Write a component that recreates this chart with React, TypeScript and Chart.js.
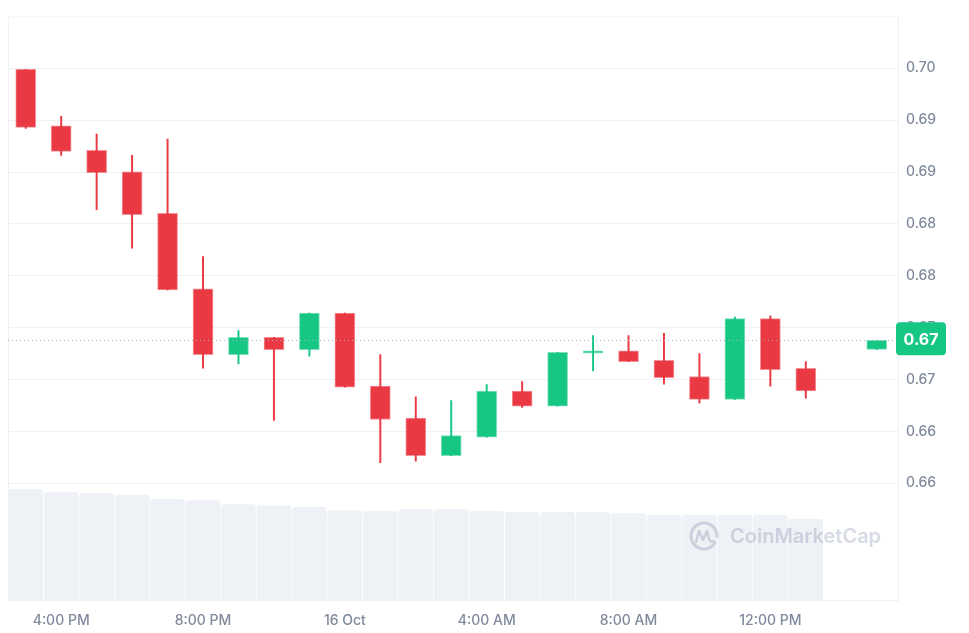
import React, { useEffect, useRef } from "react";
import { Chart, registerables } from "chart.js";

Chart.register(...registerables);

// Hour offsets from 15 Oct, 3:00 PM (one candle per hour)
const hourIdx = [0, 1, 2, 3, 4, 5, 6, 7, 8, 9, 10, 11, 12, 13, 14, 15, 16, 17, 18, 19, 20, 21, 22, 24];
const opens = [0.6999, 0.69445, 0.69209, 0.69003, 0.68603, 0.67875, 0.6724, 0.67407, 0.67288, 0.67641, 0.66936, 0.66628, 0.66266, 0.66445, 0.66888, 0.66743, 0.67253, 0.67276, 0.67186, 0.67029, 0.66808, 0.67587, 0.67109, 0.67291];
const highs = [0.6999, 0.69536, 0.69365, 0.69161, 0.69317, 0.68186, 0.67471, 0.67407, 0.67641, 0.67641, 0.6724, 0.66834, 0.66798, 0.66952, 0.66981, 0.67263, 0.67423, 0.67423, 0.67445, 0.6725, 0.67603, 0.67613, 0.67173, 0.67378];
const lows = [0.6942, 0.69161, 0.68638, 0.68266, 0.67863, 0.67109, 0.67151, 0.66606, 0.67224, 0.66926, 0.66199, 0.66214, 0.66266, 0.66445, 0.66731, 0.66743, 0.67084, 0.67173, 0.66955, 0.66772, 0.66808, 0.66936, 0.6682, 0.67291];
const closes = [0.6943, 0.69199, 0.68993, 0.68589, 0.67863, 0.6724, 0.67407, 0.67288, 0.67641, 0.66926, 0.66615, 0.66266, 0.66459, 0.66888, 0.66743, 0.67263, 0.67276, 0.67173, 0.67019, 0.66808, 0.67587, 0.67096, 0.66891, 0.67378];

// Volume bars (relative units), hours 0..22
const volumeHours = [0, 1, 2, 3, 4, 5, 6, 7, 8, 9, 10, 11, 12, 13, 14, 15, 16, 17, 18, 19, 20, 21, 22];
const volumes = [11.1, 10.8, 10.67, 10.5, 10.1, 9.97, 9.57, 9.43, 9.3, 8.93, 8.9, 9.07, 9.07, 8.9, 8.8, 8.8, 8.8, 8.67, 8.5, 8.5, 8.5, 8.5, 8.1];

const currentPrice = 0.67378;
const currentPriceLabel = "0.67";

const yTickValues = [0.66, 0.665, 0.67, 0.675, 0.68, 0.685, 0.69, 0.695, 0.7];
const yTickLabels = ["0.66", "0.66", "0.67", "0.67", "0.68", "0.68", "0.69", "0.69", "0.70"];
const xTickValues = [1, 5, 9, 13, 17, 21];
const xTickLabels = ["4:00 PM", "8:00 PM", "16 Oct", "4:00 AM", "8:00 AM", "12:00 PM"];

const UP = "#16c784";
const DOWN = "#ea3943";
const UP_EDGE = "rgba(22,199,132,0.55)";
const DOWN_EDGE = "rgba(234,57,67,0.55)";
const TEXT = "#808a9d";
const GRID = "#eff2f5";
const FONT = "Inter, 'Noto Sans', sans-serif";

const decorPlugin = {
  id: "decor",
  beforeDatasetsDraw(chart: any) {
    const { ctx, chartArea: a } = chart;
    ctx.save();
    ctx.strokeStyle = GRID;
    ctx.lineWidth = 1;
    ctx.beginPath();
    ctx.moveTo(a.left + 0.5, a.bottom);
    ctx.lineTo(a.left + 0.5, a.top + 0.5);
    ctx.lineTo(a.right, a.top + 0.5);
    ctx.stroke();
    ctx.restore();
  },
  afterDatasetsDraw(chart: any) {
    const { ctx, chartArea: a } = chart;
    // watermark
    ctx.save();
    const wx = 704;
    const wy = 536;
    ctx.strokeStyle = "rgba(128,140,170,0.32)";
    ctx.lineWidth = 3;
    ctx.beginPath();
    ctx.arc(wx, wy, 13, 0.15 * Math.PI, 2.05 * Math.PI);
    ctx.stroke();
    ctx.lineWidth = 2.6;
    ctx.lineJoin = "round";
    ctx.lineCap = "round";
    ctx.beginPath();
    ctx.moveTo(wx - 8, wy + 6);
    ctx.lineTo(wx - 5, wy - 5);
    ctx.lineTo(wx - 1, wy + 4);
    ctx.lineTo(wx + 3, wy - 5);
    ctx.lineTo(wx + 5, wy + 3);
    ctx.quadraticCurveTo(wx + 7, wy + 7, wx + 10, wy + 5);
    ctx.stroke();
    ctx.fillStyle = "rgba(128,140,170,0.32)";
    ctx.font = `600 20px ${FONT}`;
    ctx.textBaseline = "middle";
    ctx.textAlign = "left";
    ctx.fillText("CoinMarketCap", 730, wy + 1);
    ctx.restore();

    // current price dotted line
    const y = chart.scales.y.getPixelForValue(currentPrice);
    ctx.save();
    ctx.strokeStyle = "#a6b0c3";
    ctx.lineWidth = 1;
    ctx.setLineDash([1, 3]);
    ctx.beginPath();
    ctx.moveTo(a.left, Math.round(y) + 0.5);
    ctx.lineTo(a.right, Math.round(y) + 0.5);
    ctx.stroke();
    ctx.restore();
  },
  afterDraw(chart: any) {
    const { ctx, chartArea: a } = chart;
    const y = chart.scales.y.getPixelForValue(currentPrice);
    const x0 = a.right - 2;
    const w = 50;
    const h = 33;
    const top = y - 18;
    ctx.save();
    ctx.fillStyle = UP;
    ctx.beginPath();
    (ctx as any).roundRect(x0, top, w, h, 4);
    ctx.fill();
    ctx.fillStyle = "#ffffff";
    ctx.font = `700 16px ${FONT}`;
    ctx.textAlign = "center";
    ctx.textBaseline = "middle";
    ctx.fillText(currentPriceLabel, x0 + w / 2, top + h / 2 + 1);
    ctx.restore();
  },
};

export default function App() {
  const ref = useRef<HTMLCanvasElement | null>(null);

  useEffect(() => {
    if (!ref.current) return;
    const isUp = hourIdx.map((_, i) => closes[i] >= opens[i]);
    const chart = new Chart(ref.current, {
      type: "bar",
      data: {
        datasets: [
          {
            label: "body",
            data: hourIdx.map((h, i) => ({ x: h, y: [opens[i], closes[i]] })) as any,
            backgroundColor: isUp.map((u) => (u ? UP : DOWN)),
            borderColor: isUp.map((u) => (u ? UP_EDGE : DOWN_EDGE)),
            borderWidth: 1,
            borderSkipped: false,
            barThickness: 20,
            grouped: false,
            order: 0,
            yAxisID: "y",
          } as any,
          {
            label: "wick",
            data: hourIdx.map((h, i) => ({ x: h, y: [lows[i], highs[i]] })) as any,
            backgroundColor: isUp.map((u) => (u ? UP : DOWN)),
            borderWidth: 0,
            barThickness: 1.3,
            grouped: false,
            order: 1,
            yAxisID: "y",
          } as any,
          {
            label: "volume",
            data: volumeHours.map((h, i) => ({ x: h, y: volumes[i] })) as any,
            backgroundColor: "#eef1f5",
            borderWidth: 0,
            borderRadius: { topLeft: 3, topRight: 3, bottomLeft: 0, bottomRight: 0 },
            borderSkipped: "bottom",
            barThickness: 34,
            grouped: false,
            order: 2,
            yAxisID: "yv",
          } as any,
        ],
      },
      options: {
        responsive: false,
        animation: false,
        devicePixelRatio: 1,
        layout: { padding: { left: 8, top: 15, right: 0, bottom: 0 } },
        plugins: { legend: { display: false }, tooltip: { enabled: false } },
        scales: {
          x: {
            type: "linear",
            min: -0.5,
            max: 24.6,
            offset: false,
            grid: { display: false, drawTicks: false },
            border: { display: true, color: GRID },
            afterBuildTicks: (s: any) => {
              s.ticks = xTickValues.map((v) => ({ value: v }));
            },
            afterFit: (s: any) => {
              s.height = 33;
            },
            ticks: {
              padding: 12,
              color: TEXT,
              font: { family: FONT, size: 14, weight: 500 },
              maxRotation: 0,
              autoSkip: false,
              callback: (_v: any, i: number) => xTickLabels[i],
            },
          },
          y: {
            type: "linear",
            position: "right",
            min: 0.64875,
            max: 0.705,
            grid: { color: GRID, drawTicks: false },
            border: { display: true, color: GRID },
            afterBuildTicks: (s: any) => {
              s.ticks = yTickValues.map((v) => ({ value: v }));
            },
            afterFit: (s: any) => {
              s.width = 71;
            },
            ticks: {
              padding: 8,
              color: TEXT,
              font: { family: FONT, size: 14, weight: 500 },
              callback: (_v: any, i: number) => yTickLabels[i],
            },
          },
          yv: {
            type: "linear",
            display: false,
            min: 0,
            max: 58.5,
          },
        },
      } as any,
      plugins: [decorPlugin],
    });
    return () => chart.destroy();
  }, []);

  return (
    <div style={{ position: "fixed", left: 0, top: 0, width: 969, height: 633, background: "#fff" }}>
      <canvas ref={ref} width={969} height={633} style={{ display: "block" }} />
    </div>
  );
}
